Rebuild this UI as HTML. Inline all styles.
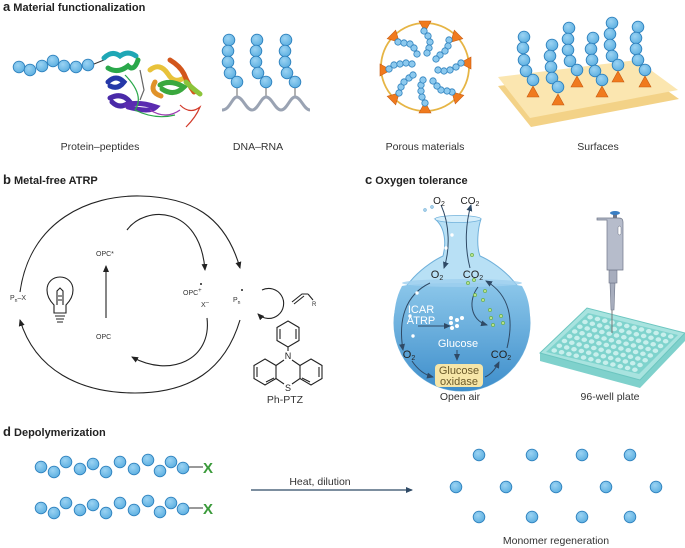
<!DOCTYPE html>
<html><head><meta charset="utf-8"><style>
html,body{margin:0;padding:0;background:#fff;}
svg{display:block;font-family:"Liberation Sans",sans-serif;}
</style></head><body>
<svg width="685" height="548" viewBox="0 0 685 548" xmlns="http://www.w3.org/2000/svg">
<defs>
<radialGradient id="bd" cx="0.4" cy="0.35" r="0.7"><stop offset="0" stop-color="#9bd3f3"/><stop offset="1" stop-color="#5aaee0"/></radialGradient>
<g id="b"><circle r="5.8" fill="url(#bd)" stroke="#2d80bd" stroke-width="0.9"/></g>
<g id="s"><circle r="3.2" fill="#8cc9ee" stroke="#2d80bd" stroke-width="0.8"/></g>
<g id="tri"><path d="M0,-6 L6,5 L-6,5Z" fill="#f07a1e" stroke="#c75a10" stroke-width="0.6"/></g>
<marker id="ar" markerWidth="8" markerHeight="8" refX="6" refY="3" orient="auto" markerUnits="userSpaceOnUse"><path d="M0,0 L7,3 L0,6Z" fill="#222"/></marker>
<marker id="ar2" markerWidth="8" markerHeight="8" refX="6" refY="3" orient="auto" markerUnits="userSpaceOnUse"><path d="M0,0 L7,3 L0,6Z" fill="#2f4a66"/></marker>
<linearGradient id="fl" x1="0" y1="0" x2="0" y2="1"><stop offset="0" stop-color="#8cc7ea"/><stop offset="1" stop-color="#3e8ecb"/></linearGradient>
</defs>

<!-- Panel a -->
<text x="3" y="11" font-size="11" font-weight="bold" fill="#222"><tspan font-size="13">a</tspan> Material functionalization</text>
<g>
<use href="#b" x="19" y="67"/><use href="#b" x="30" y="70"/><use href="#b" x="42" y="66"/><use href="#b" x="53" y="61"/><use href="#b" x="64" y="66"/><use href="#b" x="76" y="67"/><use href="#b" x="88" y="65"/>
<line x1="94" y1="64" x2="104" y2="60" stroke="#333"/>
</g>
<g fill="none" stroke-width="5" stroke-linecap="round">
<path d="M104,58 q8,-8 16,-2 q8,-6 16,0" stroke="#1fa7b5"/>
<path d="M108,68 q10,6 20,-2 q6,6 10,-6" stroke="#2aa84a"/>
<path d="M108,82 q8,-8 16,0 q-6,8 -14,4" stroke="#2538a8"/>
<path d="M110,98 q12,-6 20,4 q-10,8 -18,0" stroke="#4a2aa8"/>
<path d="M126,105 q12,-4 30,2 q-6,6 -28,0" stroke="#5a2bb0"/>
<path d="M150,70 q10,-8 18,4 q6,10 16,4" stroke="#e8c23a"/>
<path d="M160,85 q10,-6 24,2 q-10,10 -22,2" stroke="#3aa83e"/>
<path d="M170,60 q10,6 14,14 q4,10 10,18" stroke="#d2561c"/>
<path d="M186,82 q6,6 14,12" stroke="#8cc43a"/>
<path d="M155,82 q-6,10 6,14" stroke="#e0922a"/>
</g>
<g fill="none" stroke-width="1.2">
<path d="M125,75 q20,20 10,35 q20,10 40,5" stroke="#2aa84a"/>
<path d="M180,105 q10,10 20,2 q-4,10 -14,20" stroke="#d23a2a"/>
<path d="M150,110 q16,10 30,0" stroke="#9a3ab0"/>
<path d="M140,70 l4,20 l-4,10" stroke="#666"/>
</g>
<g>
<use href="#b" x="229" y="40"/><use href="#b" x="228" y="51"/><use href="#b" x="228" y="62"/><use href="#b" x="230" y="73"/><use href="#b" x="237" y="82"/>
<use href="#b" x="257" y="40"/><use href="#b" x="256" y="51"/><use href="#b" x="256" y="62"/><use href="#b" x="258" y="73"/><use href="#b" x="266" y="82"/>
<use href="#b" x="286" y="40"/><use href="#b" x="285" y="51"/><use href="#b" x="285" y="62"/><use href="#b" x="287" y="73"/><use href="#b" x="295" y="82"/>
<g stroke="#555" stroke-width="0.9"><line x1="237" y1="88" x2="237" y2="97"/><line x1="266" y1="88" x2="266" y2="97"/><line x1="295" y1="88" x2="295" y2="97"/></g>
<path d="M222,110 C230,110 232,97 237,97 C243,97 246,110 252,110 C258,110 261,97 266,97 C272,97 275,110 281,110 C287,110 290,97 295,97 C301,97 304,110 310,110" fill="none" stroke="#9aa3b3" stroke-width="3"/>
</g>
<ellipse cx="425" cy="67" rx="44" ry="44" fill="none" stroke="#e6b545" stroke-width="1.8"/>
<g>
<use href="#tri" x="425" y="26" transform="rotate(180 425 26)"/>
<use href="#tri" x="425" y="108"/>
<use href="#tri" x="395" y="38" transform="rotate(135 395 38)"/>
<use href="#tri" x="455" y="38" transform="rotate(-135 455 38)"/>
<use href="#tri" x="385" y="70" transform="rotate(90 385 70)"/>
<use href="#tri" x="466" y="63" transform="rotate(-90 466 63)"/>
<use href="#tri" x="395" y="97" transform="rotate(45 395 97)"/>
<use href="#tri" x="456" y="96" transform="rotate(-45 456 96)"/>
<use href="#s" x="424" y="31"/><use href="#s" x="428" y="36"/><use href="#s" x="430" y="42"/><use href="#s" x="429" y="48"/><use href="#s" x="427" y="53"/>
<use href="#s" x="398" y="42"/><use href="#s" x="404" y="43"/><use href="#s" x="410" y="44"/><use href="#s" x="414" y="48"/><use href="#s" x="417" y="54"/>
<use href="#s" x="449" y="40"/><use href="#s" x="448" y="46"/><use href="#s" x="445" y="51"/><use href="#s" x="440" y="55"/><use href="#s" x="436" y="59"/>
<use href="#s" x="389" y="69"/><use href="#s" x="394" y="65"/><use href="#s" x="400" y="64"/><use href="#s" x="406" y="63"/><use href="#s" x="412" y="64"/>
<use href="#s" x="461" y="63"/><use href="#s" x="456" y="67"/><use href="#s" x="450" y="70"/><use href="#s" x="444" y="71"/><use href="#s" x="438" y="70"/>
<use href="#s" x="399" y="93"/><use href="#s" x="401" y="87"/><use href="#s" x="404" y="82"/><use href="#s" x="409" y="78"/><use href="#s" x="413" y="75"/>
<use href="#s" x="425" y="103"/><use href="#s" x="422" y="97"/><use href="#s" x="421" y="91"/><use href="#s" x="421" y="85"/><use href="#s" x="423" y="80"/>
<use href="#s" x="452" y="92"/><use href="#s" x="447" y="91"/><use href="#s" x="441" y="90"/><use href="#s" x="437" y="86"/><use href="#s" x="433" y="81"/>
</g>
<path d="M498,86 L637,69 L679,99 L531,127Z" fill="#f3d287"/>
<path d="M498,77 L637,60 L678,90 L530,118Z" fill="#fbe6b0"/>
<g>
<use href="#b" x="524" y="37"/><use href="#b" x="523" y="48"/><use href="#b" x="524" y="60"/><use href="#b" x="526" y="71"/><use href="#b" x="533" y="80"/><use href="#tri" x="533" y="92"/>
<use href="#b" x="552" y="45"/><use href="#b" x="550" y="56"/><use href="#b" x="551" y="67"/><use href="#b" x="552" y="78"/><use href="#b" x="558" y="87"/><use href="#tri" x="558" y="100"/>
<use href="#b" x="569" y="28"/><use href="#b" x="568" y="39"/><use href="#b" x="568" y="50"/><use href="#b" x="570" y="61"/><use href="#b" x="577" y="70"/><use href="#tri" x="577" y="82"/>
<use href="#b" x="593" y="38"/><use href="#b" x="591" y="49"/><use href="#b" x="592" y="60"/><use href="#b" x="595" y="71"/><use href="#b" x="602" y="80"/><use href="#tri" x="602" y="92"/>
<use href="#b" x="612" y="23"/><use href="#b" x="610" y="34"/><use href="#b" x="610" y="45"/><use href="#b" x="612" y="56"/><use href="#b" x="618" y="65"/><use href="#tri" x="618" y="77"/>
<use href="#b" x="638" y="27"/><use href="#b" x="636" y="38"/><use href="#b" x="636" y="49"/><use href="#b" x="638" y="60"/><use href="#b" x="645" y="70"/><use href="#tri" x="645" y="82"/>
</g>
<g font-size="10.5" fill="#333" text-anchor="middle">
<text x="100" y="150">Protein–peptides</text><text x="258" y="150">DNA–RNA</text><text x="425" y="150">Porous materials</text><text x="598" y="150">Surfaces</text>
</g>

<!-- Panel b -->
<text x="3" y="184" font-size="11" font-weight="bold" fill="#222"><tspan font-size="13">b</tspan> Metal-free ATRP</text>
<g fill="none" stroke="#222" stroke-width="1.1">
<path d="M20,292 C30,220 90,195 140,196 C190,197 225,215 240,268" marker-end="url(#ar)"/>
<path d="M240,320 C225,370 190,393 135,393 C80,393 35,370 20,320" marker-end="url(#ar)"/>
<path d="M127,230 C145,205 200,205 205,270" marker-end="url(#ar)"/>
<path d="M207,318 C212,360 170,378 132,357" marker-end="url(#ar)"/>
<line x1="106" y1="318" x2="106" y2="266" marker-end="url(#ar)"/>
<path d="M262,290 A15,15 0 1 1 258,314" marker-end="url(#ar)"/>
<path d="M292,302 L302,294 L308,294 M294,304 L304,296 M308,294 L313,300"/>
</g>
<g font-size="7" fill="#333">
<text x="10" y="300">P<tspan font-size="5" dy="2">n</tspan><tspan dy="-2">–X</tspan></text>
<text x="96" y="256">OPC*</text>
<text x="96" y="339">OPC</text>
<text x="183" y="295">OPC<tspan font-size="6" dy="-3">+</tspan></text>
<text x="201" y="307">X<tspan font-size="6" dy="-3">–</tspan></text>
<text x="233" y="302">P<tspan font-size="5" dy="2">n</tspan></text>
<text x="312" y="306" font-size="6">R</text>
</g>
<g fill="#222"><circle cx="201" cy="284" r="1"/><circle cx="242" cy="290" r="1"/></g>
<g fill="none" stroke="#222" stroke-width="1.1">
<path d="M54,313 L54,305 C48,299 47,294 47,290 C47,282 53,277 60,277 C67,277 73,282 73,290 C73,294 72,299 66,305 L66,313Z"/>
<path d="M54,313 h12 M55,316 h10 M56,319 h8 M57,322 h6"/>
<path d="M57,305 L57,291 L60,288 L63,291 L63,305 M58,296 h4 M58,300 h4"/>
</g>
<!-- Ph-PTZ -->
<g fill="none" stroke="#222" stroke-width="1.1">
<polygon points="288,321 299,327.5 299,340.5 288,347 277,340.5 277,327.5"/>
<path d="M280,329 L280,339 M296,329 L296,339 M288,344 L288,344"/>
<line x1="288" y1="347" x2="288" y2="351"/>
<polygon points="265,359 276,365.5 276,378.5 265,385 254,378.5 254,365.5"/>
<polygon points="311,359 322,365.5 322,378.5 311,385 300,378.5 300,365.5"/>
<path d="M276,365.5 L284,360 M292,360 L300,365.5 M276,378.5 L284,384 M292,384 L300,378.5"/>
<path d="M257,367 v10 M319,367 v10 M266,382 l8,-4 M302,378 l8,4"/>
</g>
<g font-size="9" fill="#222" text-anchor="middle"><text x="288" y="359">N</text><text x="288" y="391">S</text></g>
<text x="285" y="403" font-size="10.5" fill="#333" text-anchor="middle">Ph-PTZ</text>

<!-- Panel c -->
<text x="365" y="184" font-size="11" font-weight="bold" fill="#222"><tspan font-size="13">c</tspan> Oxygen tolerance</text>
<path d="M435,219 C446,228 446,245 443,256 C430,262 394,285 394,323 A68,68 0 0 0 530,323 C530,285 494,262 480,256 C476,245 478,228 481,219Z" fill="#b8e0f5" stroke="#6fb0da" stroke-width="1"/>
<path d="M402,286 C420,282 505,282 522,286 C530,300 530,312 530,323 A68,68 0 0 1 394,323 C394,310 396,297 402,286Z" fill="url(#fl)"/>
<ellipse cx="462" cy="283" rx="60" ry="4" fill="#9fd0ef" opacity="0.8"/>
<ellipse cx="458" cy="219" rx="23" ry="3.5" fill="#d6eefa" stroke="#6fb0da" stroke-width="0.8"/>
<rect x="435" y="364" width="48" height="23" rx="4" fill="#f6e6a8"/>
<g fill="none" stroke="#2f4a66" stroke-width="1">
<path d="M441,205 C450,225 450,250 444,268" marker-end="url(#ar2)"/>
<path d="M470,268 C464,245 466,222 471,205" marker-end="url(#ar2)"/>
<path d="M430,283 C405,295 398,320 403,350" marker-end="url(#ar2)"/>
<path d="M507,348 C514,320 510,295 486,281" marker-end="url(#ar2)"/>
<path d="M412,361 C418,370 425,375 433,377" marker-end="url(#ar2)"/>
<path d="M485,377 C492,374 496,368 499,362" marker-end="url(#ar2)"/>
<path d="M478,287 C468,300 470,320 487,325" marker-end="url(#ar2)"/>
<line x1="418" y1="326" x2="450" y2="326" marker-end="url(#ar2)"/>
<line x1="457" y1="350" x2="457" y2="360" marker-end="url(#ar2)"/>
</g>
<g fill="#fff" stroke="#fff"><circle cx="451" cy="318" r="1.5"/><circle cx="451" cy="323" r="1.5"/><circle cx="452" cy="328" r="1.5"/><circle cx="457" cy="320" r="1.5"/><circle cx="457" cy="326" r="1.5"/><circle cx="462" cy="318" r="1.5"/><circle cx="417" cy="293" r="1.2"/><circle cx="410" cy="316" r="1.2"/><circle cx="413" cy="336" r="1.2"/><circle cx="452" cy="235" r="1.2"/><circle cx="446" cy="248" r="1.2"/><circle cx="425" cy="210" r="1.2" fill="none" stroke="#6fb0da"/><circle cx="432" cy="207" r="1.2" fill="none" stroke="#6fb0da"/></g>
<g fill="#b9e08a" stroke="#5aa83a" stroke-width="0.6"><circle cx="472" cy="255" r="1.6"/><circle cx="468" cy="283" r="1.6"/><circle cx="474" cy="280" r="1.6"/><circle cx="475" cy="295" r="1.6"/><circle cx="483" cy="300" r="1.6"/><circle cx="490" cy="310" r="1.6"/><circle cx="491" cy="318" r="1.6"/><circle cx="493" cy="325" r="1.6"/><circle cx="501" cy="316" r="1.6"/><circle cx="503" cy="323" r="1.6"/><circle cx="485" cy="291" r="1.6"/></g>
<g font-size="11" fill="#222" text-anchor="middle">
<text x="439" y="204" font-size="10">O<tspan font-size="7" dy="2">2</tspan></text>
<text x="470" y="204" font-size="10">CO<tspan font-size="7" dy="2">2</tspan></text>
<text x="437" y="278">O<tspan font-size="7" dy="2">2</tspan></text>
<text x="473" y="278">CO<tspan font-size="7" dy="2">2</tspan></text>
<text x="421" y="313" fill="#fff">ICAR</text>
<text x="421" y="324" fill="#fff">ATRP</text>
<text x="458" y="347" fill="#fff">Glucose</text>
<text x="409" y="358">O<tspan font-size="7" dy="2">2</tspan></text>
<text x="501" y="358">CO<tspan font-size="7" dy="2">2</tspan></text>
<text x="459" y="374" fill="#6b5a2a">Glucose</text>
<text x="459" y="385" fill="#6b5a2a">oxidase</text>
</g>
<path d="M540,353 L587,308 L685,333 L685,341 L640,388 L540,361Z" fill="#7fd1cc"/>
<path d="M540,353 L587,308 L685,333 L640,380Z" fill="#a8e3df" stroke="#6cc6c0" stroke-width="1"/>
<path d="M546,352 L588,313 L678,335 L639,374Z" fill="#7fd3cd"/>
<g id="wells" fill="#c8efec"></g>
<g>
<line x1="612" y1="300" x2="612" y2="333" stroke="#777" stroke-width="1"/>
<path d="M610,283 L615,283 L614,310 L611,310Z" fill="#a7adbd" stroke="#6f7688" stroke-width="0.6"/>
<rect x="609" y="270" width="8" height="13" fill="#a7adbd" stroke="#6f7688" stroke-width="0.6"/>
<path d="M607,218 L597,218 L597,220 L607,220 L607,270 L623,270 L623,222 Q623,218 619,218Z" fill="#b6bccb" stroke="#6f7688" stroke-width="0.7"/>
<rect x="618" y="226" width="3" height="9" rx="1.5" fill="#fff" stroke="#6f7688" stroke-width="0.5"/>
<rect x="613" y="214" width="4" height="4" fill="#6f7688"/>
<ellipse cx="615" cy="213" rx="5" ry="2" fill="#3a7fc4"/>
</g>
<g font-size="10.5" fill="#333" text-anchor="middle"><text x="460" y="400">Open air</text><text x="610" y="400">96-well plate</text></g>

<!-- Panel d -->
<text x="3" y="436" font-size="11" font-weight="bold" fill="#222"><tspan font-size="13">d</tspan> Depolymerization</text>
<g>
<line x1="188" y1="467" x2="203" y2="467" stroke="#333"/><line x1="188" y1="508" x2="203" y2="508" stroke="#333"/>
<g id="ch">
<use href="#b" x="41" y="467"/><use href="#b" x="54" y="472"/><use href="#b" x="66" y="462"/><use href="#b" x="80" y="469"/><use href="#b" x="93" y="464"/><use href="#b" x="106" y="472"/><use href="#b" x="120" y="462"/><use href="#b" x="134" y="469"/><use href="#b" x="148" y="460"/><use href="#b" x="160" y="471"/><use href="#b" x="171" y="462"/><use href="#b" x="183" y="468"/>
</g>
<use href="#ch" y="41"/>
<text x="203" y="473" font-size="15" font-weight="bold" fill="#3a9a3a">X</text>
<text x="203" y="514" font-size="15" font-weight="bold" fill="#3a9a3a">X</text>
</g>
<line x1="251" y1="490" x2="412" y2="490" stroke="#2f4a66" stroke-width="1.2" marker-end="url(#ar2)"/>
<text x="320" y="485" font-size="10.5" fill="#333" text-anchor="middle">Heat, dilution</text>
<g>
<use href="#b" x="479" y="455"/><use href="#b" x="532" y="455"/><use href="#b" x="582" y="455"/><use href="#b" x="630" y="455"/>
<use href="#b" x="456" y="487"/><use href="#b" x="506" y="487"/><use href="#b" x="556" y="487"/><use href="#b" x="606" y="487"/><use href="#b" x="656" y="487"/>
<use href="#b" x="479" y="517"/><use href="#b" x="532" y="517"/><use href="#b" x="582" y="517"/><use href="#b" x="630" y="517"/>
</g>
<text x="556" y="544" font-size="10.5" fill="#333" text-anchor="middle">Monomer regeneration</text>
</svg>
<script>
(function(){var g=document.getElementById('wells');var ns='http://www.w3.org/2000/svg';
var A=[548,352],B=[589,314],C=[677,335];
for(var i=0;i<12;i++)for(var j=0;j<8;j++){var u=(i+0.5)/12,v=(j+0.5)/8;
var x=B[0]+(C[0]-B[0])*u+(A[0]-B[0])*v, y=B[1]+(C[1]-B[1])*u+(A[1]-B[1])*v;
var e=document.createElementNS(ns,'ellipse');e.setAttribute('cx',x);e.setAttribute('cy',y);e.setAttribute('rx',2.8);e.setAttribute('ry',2.2);g.appendChild(e);}})();
</script>
</body></html>
